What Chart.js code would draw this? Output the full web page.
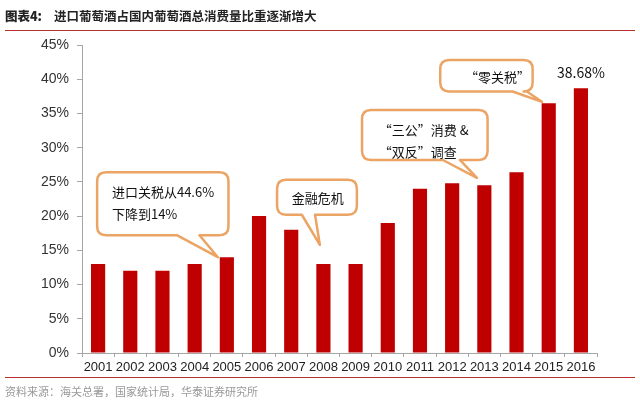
<!DOCTYPE html>
<html lang="zh">
<head>
<meta charset="UTF-8">
<title>进口葡萄酒占国内葡萄酒总消费量比重</title>
<script src="https://cdn.jsdelivr.net/npm/chart.js"></script>
<style>
  body { margin: 0; background: #fff; font-family: "Liberation Sans", Arial, sans-serif; }
  #wrap { position: relative; width: 640px; height: 414px; }
  #title { position: absolute; left: 5px; top: 6px; font: bold 12.5px "Noto Sans CJK SC", sans-serif; color: #222; }
  #title b { margin-right: 12px; }
  .rule { position: absolute; left: 5px; width: 630px; height: 1px; background: #b8312f; }
  #source { position: absolute; left: 5px; top: 383px; font: 11px "Noto Sans CJK SC", sans-serif; color: #999; }
  canvas { position: absolute; left: 0; top: 0; }
</style>
</head>
<body>
<div id="wrap">
  <canvas id="c" width="640" height="414"></canvas>
  <div id="title"><b>图表4:</b>进口葡萄酒占国内葡萄酒总消费量比重逐渐增大</div>
  <div class="rule" style="top:30px"></div>
  <div class="rule" style="top:377px"></div>
  <div id="source">资料来源：海关总署，国家统计局，华泰证券研究所</div>
</div>
<script>
const years = ['2001','2002','2003','2004','2005','2006','2007','2008','2009','2010','2011','2012','2013','2014','2015','2016'];
const shares = [13, 12, 12, 13, 14, 20, 18, 13, 13, 19, 24, 24.8, 24.5, 26.4, 36.5, 38.68];
const yTicks = [0, 5, 10, 15, 20, 25, 30, 35, 40, 45];
const lastLabel = '38.68%';

// callouts: box and tail in data units (x = category index, y = percent)
const callouts = [
  { box: [-0.03, 4.05, 26.4, 17.2], tail: [2.46, 3.15, 3.72, 14.0],
    lines: [['进口关税从44.6%', 0.43, 23.5], ['下降到14%', 0.43, 20.3]] },
  { box: [5.56, 8.04, 25.3, 20.2], tail: [6.33, 6.74, 6.89, 15.8],
    lines: [['金融危机', 6.02, 22.7]] },
  { box: [8.2, 12.1, 35.5, 28.2], tail: [10.71, 11.24, 11.77, 25.6],
    lines: [['“三公”消费 &', 8.72, 32.6], ['“双反”调查', 8.72, 29.4]] },
  { box: [10.63, 13.5, 42.8, 38.2], tail: [12.88, 13.32, 13.79, 36.7],
    lines: [['“零关税”', 11.4, 40.3]] }
];

const calloutPlugin = {
  id: 'callouts',
  afterDatasetsDraw(chart) {
    const ctx = chart.ctx, xs = chart.scales.x, ys = chart.scales.y;
    callouts.forEach(c => {
      const x0 = xs.getPixelForValue(c.box[0]), x1 = xs.getPixelForValue(c.box[1]);
      const y0 = ys.getPixelForValue(c.box[2]), y1 = ys.getPixelForValue(c.box[3]);
      const b1 = xs.getPixelForValue(c.tail[0]), b2 = xs.getPixelForValue(c.tail[1]);
      const tx = xs.getPixelForValue(c.tail[2]), ty = ys.getPixelForValue(c.tail[3]);
      const r = 9;
      ctx.save();
      ctx.beginPath();
      ctx.moveTo(x0 + r, y0);
      ctx.lineTo(x1 - r, y0);
      ctx.quadraticCurveTo(x1, y0, x1, y0 + r);
      ctx.lineTo(x1, y1 - r);
      ctx.quadraticCurveTo(x1, y1, x1 - r, y1);
      ctx.lineTo(b2, y1);
      ctx.lineTo(tx, ty);
      ctx.lineTo(b1, y1);
      ctx.lineTo(x0 + r, y1);
      ctx.quadraticCurveTo(x0, y1, x0, y1 - r);
      ctx.lineTo(x0, y0 + r);
      ctx.quadraticCurveTo(x0, y0, x0 + r, y0);
      ctx.closePath();
      ctx.fillStyle = '#fff';
      ctx.fill();
      ctx.lineWidth = 2.5;
      ctx.strokeStyle = '#eba464';
      ctx.lineJoin = 'round';
      ctx.stroke();
      ctx.fillStyle = '#111';
      ctx.font = '13px "Noto Sans CJK SC", sans-serif';
      ctx.textBaseline = 'middle';
      ctx.textAlign = 'left';
      c.lines.forEach(l => ctx.fillText(l[0], xs.getPixelForValue(l[1]), ys.getPixelForValue(l[2])));
      ctx.restore();
    });
    // value label on the last bar
    const meta = chart.getDatasetMeta(0);
    const bar = meta.data[meta.data.length - 1];
    ctx.save();
    ctx.fillStyle = '#111';
    ctx.font = '14px "Noto Sans CJK SC", sans-serif';
    ctx.textAlign = 'center';
    ctx.textBaseline = 'middle';
    ctx.fillText(lastLabel, bar.x, bar.y - 16);
    ctx.restore();
  }
};

new Chart(document.getElementById('c'), {
  type: 'bar',
  data: {
    labels: years,
    datasets: [{ data: shares, backgroundColor: '#c00000', barPercentage: 0.44, categoryPercentage: 1 }]
  },
  options: {
    responsive: false,
    animation: false,
    layout: { padding: { left: 0, right: 43, top: 45, bottom: 0 } },
    plugins: { legend: { display: false }, tooltip: { enabled: false } },
    scales: {
      x: {
        afterFit(s) { s.height = 61; },
        grid: { drawOnChartArea: false, tickLength: 4, color: '#a6a6a6' },
        border: { color: '#a6a6a6' },
        ticks: { color: '#222', font: { size: 13, family: '"Liberation Sans", Arial' }, padding: 3, maxRotation: 0, autoSkip: false }
      },
      y: {
        min: 0, max: 45,
        afterFit(s) { s.width = 82; },
        afterBuildTicks(s) { s.ticks = yTicks.map(v => ({ value: v })); },
        grid: { drawOnChartArea: false, tickLength: 5, color: '#a6a6a6' },
        border: { color: '#a6a6a6' },
        ticks: { color: '#333', font: { size: 14, family: '"Liberation Sans", Arial' }, padding: 8, callback: v => v + '%' }
      }
    }
  },
  plugins: [calloutPlugin]
});
</script>
</body>
</html>
